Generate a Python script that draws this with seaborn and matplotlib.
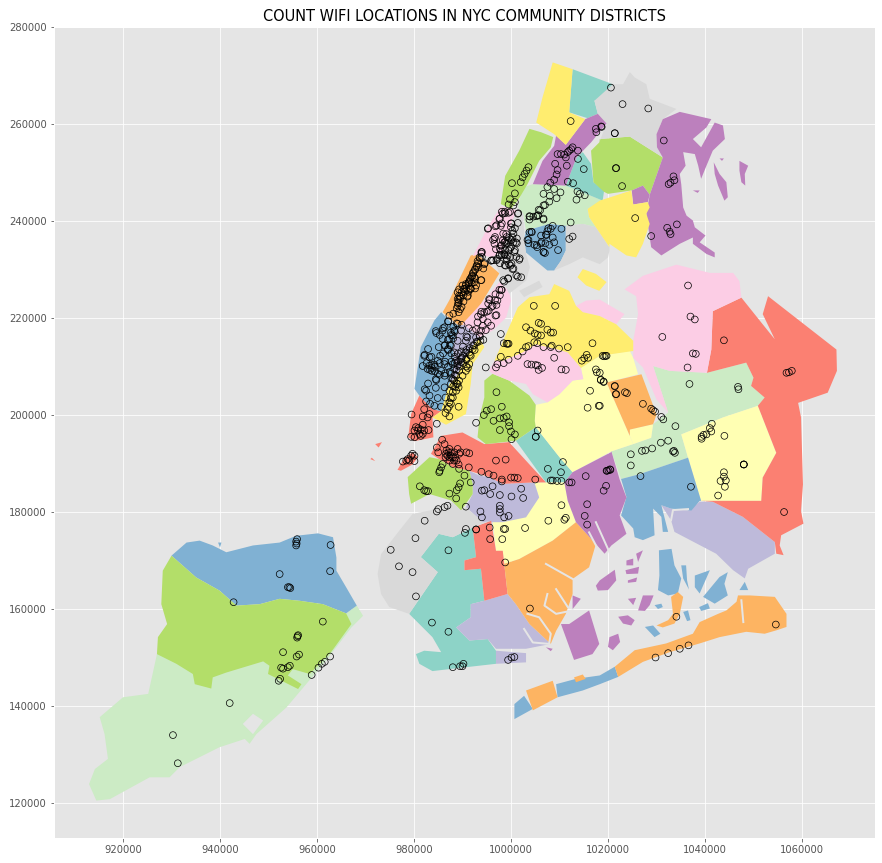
import matplotlib
matplotlib.use("Agg")
import matplotlib.pyplot as plt
import seaborn as sns

# all coordinates below are in thousands of feet (state plane)
SI_LIGHT = [(927,150.7),(925.2,142.5),(920,141.8),(915.2,137.7),(916.2,134.2),(916.9,129.1),(914.2,127),(913,123.9),(914.5,120.5),(917.3,120.8),(925.5,125.3),(929.6,125.3),(931.7,127.4),(939.9,131.5),(945.1,133.2),(946.1,132.2),(947.5,134.2),(953.7,139.7),(961.9,149.4),(967.1,156.2),(969.5,158.6),(968.2,160.7),(966,159.1),(950,155),(930,155)]
SI_GREEN = [(930,171),(935.1,166.5),(939.9,163.8),(943.4,160.7),(948.2,161),(952.3,162.1),(956.4,161.7),(961.2,161),(966,159.1),(967.1,156.9),(962.9,151.1),(958.5,146.6),(955,147.6),(954,146.3),(956.8,144.5),(956.1,143.5),(949.9,146.6),(950.2,148.3),(948.9,149.2),(941.3,146.9),(938.5,145.9),(938.2,143.6),(934.8,144.5),(934.4,146.6),(931,148.7),(927,150.7),(927.2,154.2),(929.1,156.9),(927.9,161),(928.2,167.9)]
SI_BLUE = [(930,171),(933.1,173.7),(935.8,174.1),(938.5,173.1),(941.3,171.7),(946.8,173.1),(952.3,173.7),(955.7,175.1),(960.2,175.6),(963.3,174.8),(964,170.6),(964,167.9),(966,164.5),(968.2,160.7),(966,159.1),(961.2,161),(956.4,161.7),(952.3,162.1),(948.2,161),(943.4,160.7),(939.9,163.8),(935.1,166.5)]
SI_BUMP = [(939.6,173.7),(940.3,173.7),(940,172.7)]
SI_POND = [(944.7,136.3),(946.8,138.4),(948.9,137),(946.8,134.2)]

BX_YELLOW_NW = [(1008.6,272.7),(1012.7,271.3),(1012,262.4),(1015.3,261),(1011.3,255.7),(1008.9,257.9),(1005.2,260.3),(1006.5,265.5)]
BX_TEAL_N = [(1012.7,271.3),(1021,268.2),(1020.3,266.2),(1017.2,264.8),(1017.9,262.1),(1015.8,261.2),(1012,262.4)]
BX_PURPLE = [(1009.3,257.6),(1011.3,255.7),(1015.3,261),(1017.9,262.1),(1019.7,260.1),(1016.5,256.2),(1013.5,253.1),(1011.3,247.3),(1004.5,247.6),(1006.5,252.4),(1008.9,255.5)]
BX_RIVERDALE = [(1003.8,259),(1006.2,258.3),(1008.7,257.3),(1008.2,255.2),(1005.8,252.4),(1003.4,247.6),(1001.4,244.2),(1000,242.5),(997.9,243.5),(998.8,249.3),(1001.7,254.5)]
BX_TEAL_MID = [(1014.8,254.2),(1016.5,251.8),(1017,248),(1019.2,246.3),(1018.9,244.2),(1014.8,245.9),(1011.3,247.3),(1013.5,253.1)]
BX_GREEN_E = [(1018.3,256.9),(1024.5,257.4),(1031.3,253.1),(1028.6,245.4),(1027.2,247.3),(1024.9,246.3),(1020,245.6),(1019.2,246),(1017,248),(1016.5,254.5),(1018.2,256.2)]
BX_GRAY_N = [(1017.2,264.8),(1021,268.2),(1023.1,268.2),(1024.5,270.7),(1025.5,269.6),(1027.9,268.2),(1028.6,265.2),(1034.1,263.1),(1031.3,261),(1030,257.9),(1030.1,255.2),(1031.3,253.1),(1024.5,257.4),(1018.3,256.9),(1018.2,256.2),(1019.7,260.1),(1017.9,262.1)]
BX_PELHAM = [(1030,257.9),(1031.3,261),(1034.8,262.5),(1041.3,261),(1040.3,259.3),(1037.5,256.9),(1039.2,255.2),(1042,260.3),(1043.7,259.7),(1044.1,256.9),(1041.6,254.5),(1040.3,251.4),(1039.2,248.7),(1038.6,251.4),(1037.9,253.8),(1035.5,254.2),(1036,251.4),(1034.8,249.7),(1035.1,247.6),(1035.5,242.8),(1036.2,241.1),(1037.5,240.1),(1037.9,238.7),(1040.1,237),(1038.9,235.6),(1042,233.5),(1042,232.5),(1040.3,233.2),(1037.5,235.3),(1037.5,236.6),(1034.8,235.3),(1031,232.9),(1028.9,234.6),(1027.9,241.5),(1028.6,245.4),(1031.3,253.1),(1030.1,255.2)]
BX_SQUARE = [(1024.9,246.3),(1027.2,247.3),(1028.6,245.4),(1028.2,243.9),(1025.2,243.4)]
BX_ISLE_1 = [(1041.8,252.1),(1043,249.7),(1044.4,248),(1044.7,244.9),(1044,244.2),(1042.7,247.3),(1042,249.7)]
BX_ISLE_2 = [(1047.1,252.4),(1048.9,251.4),(1048.2,249.7),(1048.3,247.3),(1047.5,248),(1047.1,250.4)]
BX_ISLE_3 = [(1037.5,246.3),(1038.9,246.3),(1038.5,245.8)]
BX_ISLE_4 = [(1043,252.9),(1043.9,252.9),(1043.5,252.4)]
BX_YELLOW_E = [(1018.3,244.2),(1024.8,246.3),(1025.2,243.4),(1028.2,243.9),(1028.6,242.8),(1027.9,241.5),(1028.6,239.4),(1027.2,235.3),(1025.8,232.5),(1023.8,232.9),(1020.3,235.3),(1020.3,234.6),(1017.5,238.7),(1016.1,240.8),(1015.8,242.5)]
BX_GRAY_S = [(1011.3,239),(1014.8,239.4),(1017.5,238.7),(1020.3,234.6),(1020.3,233.9),(1020,232.5),(1018.3,231.1),(1014.8,232.5),(1012,231.1),(1008.9,229.8),(1010.3,231.8),(1011.3,233.9)]
BX_LIGHT = [(1002.4,246.9),(1004.5,247.6),(1011.3,247.3),(1014.8,245.9),(1018.9,244.2),(1015.8,242.5),(1016.1,240.8),(1017.5,238.7),(1014.8,239.4),(1011.3,239),(1007.9,239.4),(1003.1,238),(1002.5,241.5),(1001.4,242.8)]
BX_BLUE = [(1003.1,238),(1007.9,239.4),(1011.3,239),(1011.3,233.9),(1010.3,231.8),(1008.9,229.8),(1007.5,229.8),(1005.1,231.8),(1003.1,233.5),(1002.6,236)]
BX_YELLOW_S = [(1014.8,230.1),(1017.5,229.1),(1019.7,227.4),(1018.2,225.6),(1015.5,226.7),(1013.7,228.4)]

MN_HEIGHTS = [(997.9,243),(1000.3,242.5),(1001.4,242.1),(1000.3,240.1),(998.3,233.9),(996.2,232.5),(993.1,233.1),(992.1,232.7),(995.2,238.7)]
MN_HARLEM = [(1001.4,242.8),(1002.5,241.5),(1002.7,237.7),(1003.1,233.2),(1003.9,230.5),(1003.1,227.7),(999.6,225),(997.6,229.2),(996.2,232.5),(998.3,233.9),(1000.3,240.1)]
MN_UWS = [(987.3,223.7),(991.7,232.9),(993.1,233.1),(997.6,229.2),(993.8,222.9),(990.7,218.8),(989.3,218.4),(985.9,221.2)]
MN_EAST = [(997.6,227.4),(999.6,225.6),(1000,223.6),(999,220.1),(996.2,217.4),(993.5,216),(990,218.8),(993.8,222.9)]
MN_WEST = [(985.6,221.2),(987.6,219.1),(989.3,218.4),(988,214),(988.3,210.5),(987.3,206.4),(985.6,200.8),(983.8,201.2),(981.1,204),(980.1,205.4),(981.4,214),(984.2,219.5)]
MN_MIDTOWN = [(989.3,218.4),(990.7,218.8),(993.5,216),(991.4,213.3),(988.7,207.8),(987.3,206.4),(988.3,210.5),(988,214)]
MN_LES = [(993.5,216),(994.5,214),(992.1,210.5),(991.7,206.4),(990.7,200.2),(986.6,198),(983.8,199.5),(985.6,200.8),(987.3,206.4),(988.7,207.8),(991.4,213.3)]
MN_DOWNTOWN = [(981.1,204),(983.8,201.2),(985.6,200.8),(983.8,199.5),(984,195.4),(980.1,194.6),(978.8,195.4),(979.4,200.2)]
MN_GOVERNORS = [(976.6,188.7),(978,191.1),(979.7,192.3),(980.8,191.3),(979.7,189.8),(977.3,188.5)]
MN_SPOT_1 = [(972,194),(973.4,194.4),(972.7,193.3)]
MN_SPOT_2 = [(971,190.9),(972,190.5),(971.3,191.2)]

QN_FOREST = [(994.5,207.1),(996.2,208.5),(999.6,207.1),(1003.8,204),(1005.1,202.1),(1004.9,198.8),(1005.1,197.5),(1001,194.7),(994.8,194),(993.1,195.4),(993.5,199.5),(994.5,203.6)]
QN_ASTORIA = [(1001.4,222.2),(1003.8,224.3),(1007.9,224.9),(1008.9,227),(1012,225.6),(1013.4,222.5),(1014.8,221.2),(1018.3,220.4),(1021.7,218.7),(1025.2,215.3),(1025.2,213.2),(1018.3,212.2),(1014.4,209.7),(1011.7,212.9),(1009.3,213.6),(1005.1,214.6),(1002.4,212.9),(998.3,211.2),(996.6,211.2),(999,216.7)]
QN_SUNNYSIDE = [(996.6,211.2),(998.3,211.2),(1002.4,212.9),(1005.1,214.6),(1009.3,213.6),(1011.7,212.9),(1014.4,209.7),(1014.9,207.4),(1012.7,207.1),(1010,204.3),(1007.5,202.6),(1004.5,204.3),(1003.1,206.4),(999.6,207.1),(996.2,208.5),(995.5,209.1)]
QN_PINK_SMALL = [(1018.3,223.8),(1023.4,220.8),(1021.7,218.7),(1018.3,220.4),(1014.8,221.2),(1013.4,222.5),(1015.5,223.6)]
QN_CENTRAL = [(1005.1,202.1),(1007.5,202.6),(1010,204.3),(1012.7,207.1),(1014.9,207.4),(1014.4,209.7),(1018.3,212.2),(1024.5,213.2),(1025.2,211.8),(1026.2,208.4),(1019.7,206.7),(1024.5,195.7),(1025.2,194),(1020.7,192.5),(1012.7,188.2),(1010,191.3),(1005.1,197.5),(1004.9,198.8)]
QN_YELLOW_BIT = [(1024.5,197),(1029.3,198.1),(1028.9,195.3),(1025.2,194),(1024.5,195.7)]
QN_ORANGE = [(1019.7,206.7),(1026.9,208.4),(1030,200.1),(1029.3,198.1),(1024.5,197),(1024.5,195.7)]
QN_NE = [(1023.4,225.9),(1027.2,228.7),(1034.1,231),(1041,229.3),(1045.8,229.3),(1047.1,227.6),(1047.5,224.2),(1041.6,221.4),(1041.3,213.5),(1040.4,208.7),(1032.7,209.1),(1029.3,210.1),(1032.4,200.5),(1030,203.2),(1027.2,209.8),(1025.2,211.8),(1025.2,215.3),(1026.2,220.8),(1025.8,224.5)]
QN_LIGHT = [(1029.3,210.1),(1032.7,209.1),(1040.4,208.7),(1048.5,210.8),(1050,207.7),(1049.5,206),(1052.3,203.6),(1050.9,201.9),(1043.7,199.5),(1035.1,196),(1036.5,191.2),(1026.5,187.8),(1022.7,186.8),(1020.7,192.5),(1025.2,194),(1028.9,195.3),(1029.3,198.1),(1032.4,200.5)]
QN_SE = [(1035.1,196),(1043.7,199.5),(1050.9,201.9),(1054.7,192.2),(1051.9,187.1),(1051.6,182.3),(1039.2,182.3),(1036.5,191.2)]
QN_EAST = [(1041.6,221.4),(1047.5,224.2),(1051.9,218.7),(1054.4,215.6),(1051.9,220.8),(1053,224.5),(1067.1,213.5),(1067.2,209.1),(1065.3,204.6),(1059.2,202.5),(1059.8,199.5),(1060.2,185.7),(1059.8,180.2),(1060.3,177.6),(1055.7,175.2),(1055.4,173.1),(1056.2,171.1),(1054.7,171.4),(1054.4,173.8),(1047.8,179),(1041.6,182.1),(1039.2,182.3),(1051.6,182.3),(1051.9,187.1),(1054.7,192.2),(1050.9,201.9),(1052.3,203.6),(1049.5,206),(1050,207.7),(1048.5,210.8),(1040.4,208.7),(1041.3,213.5)]
QN_JFK = [(1031,181.4),(1033,180.7),(1036.5,180.3),(1038.9,182.1),(1041.6,182.1),(1047.8,179),(1054.4,173.8),(1054.4,171.4),(1048.9,168.3),(1048.2,166.3),(1045.8,168),(1042.3,171.4),(1033.7,175.9),(1033,178.3)]
QN_BLUE = [(1022.7,186.8),(1026.5,187.8),(1036.5,191.2),(1039.2,182.3),(1038.9,182.3),(1037.2,180.3),(1033,180.7),(1031,181.4),(1032.4,175.9),(1031.3,175.9),(1031,179),(1029.3,180.7),(1029.6,175.2),(1027.2,174.2),(1025.5,174.8),(1025.2,176.6),(1022.7,179.3),(1023.8,183.1)]
QN_ROCKAWAY = [(1021.4,148.1),(1025.5,151.5),(1032,152.9),(1037.5,154.9),(1038.9,157.3),(1042.7,159),(1044.4,159.7),(1046.5,161.5),(1046.8,162.8),(1049.2,162.8),(1054.4,162.5),(1056.8,159),(1056.8,156.3),(1054.7,155.6),(1052.3,154.9),(1048.5,155.3),(1043,154.2),(1038.9,152.9),(1032.7,151.1),(1027.2,149.1),(1022.1,146)]
QN_ROCK_BLUE = [(1009.3,144.5),(1013.4,145.6),(1018.3,146.3),(1021.4,148.1),(1022.1,146),(1018.3,144.5),(1014.8,143.2),(1009.6,141.8)]
QN_ROCK_TIP = [(1000.7,140.4),(1002.7,142.1),(1004.5,139.4),(1000.7,137.3)]
QN_ROCK_OR = [(1003.1,143.2),(1008.6,145.2),(1009.6,141.8),(1004.5,139.1)]
QN_ROCK_OR2 = [(1013,145.9),(1014.8,146.5),(1015.4,145.6),(1013.4,144.9)]
BAY_ORANGE = [(1033,162.5),(1034.4,163.5),(1035.5,162.5),(1034.8,159),(1033.7,157),(1031.3,156.2),(1030,156.6),(1032.4,157.7),(1033.4,159)]
BAY_BLUE_A = [(1030.5,172.1),(1033.1,172.4),(1033.7,169),(1035.1,166.3),(1034.4,163.2),(1032.4,162.8),(1030.3,163.9),(1030.6,166.9)]
BAY_BLUE_B = [(1035.1,169),(1036.1,169),(1036.3,165.9),(1036.7,164),(1035.5,166.3)]
BAY_BLUE_C = [(1037.9,166.9),(1041,168),(1038.9,163.2),(1037.9,164.5)]
BAY_BLUE_D = [(1043,166.6),(1044.7,167.6),(1044,165.2),(1044.7,162.8),(1042,161.1),(1039.6,162.5)]
BAY_BLUE_E = [(1047.1,163.9),(1048.2,165.6),(1048.9,163.9)]
BAY_BLUE_F = [(1038.8,160.4),(1040.6,161.2),(1041,160.1),(1039.2,159.6)]
BAY_BLUE_G = [(1029.6,160.8),(1031,161.1),(1031.3,160.4),(1030.3,160)]
BAY_BLUE_H = [(1035.5,159.4),(1036.5,159.7),(1037,157.7),(1036.3,157.5)]
BAY_BLUE_I = [(1027.6,156.3),(1029.3,156.6),(1030.8,154.9),(1029.6,154.2)]
BAY_PURPLE_A = [(1023.8,170),(1025.2,170.4),(1025.2,169),(1023.8,169)]
BAY_PURPLE_B = [(1025.8,171.4),(1027.2,172.1),(1026.2,169.7)]
BAY_PURPLE_C = [(1023.6,168),(1026.4,168.7),(1026.2,167.3),(1023.8,167.2)]
BAY_PURPLE_D = [(1024.1,165.9),(1026,166.5),(1025.8,165.6),(1024.1,165.4)]
BAY_PURPLE_E = [(1026.2,159.7),(1027.2,162.8),(1029.4,162.8),(1028.6,160.8),(1027.6,159.6)]
BAY_PURPLE_F = [(1024.1,162.1),(1025.8,162.3),(1025.2,160.8)]
BAY_PURPLE_G = [(1022.1,158.4),(1024.1,158.7),(1025.5,157.7),(1024.8,156.6),(1023.1,157)]
BAY_PURPLE_H = [(1020.3,154.2),(1022.1,154.9),(1022.5,153.2),(1021,151.5),(1020,152.2)]
BAY_PURPLE_I = [(1017.5,164.8),(1018.3,165.9),(1021.4,168.1),(1021.7,165.9),(1020,163.9),(1017.9,163.8)]
BAY_PURPLE_J = [(1010.3,156.9),(1012,156.9),(1016.1,159.7),(1018.2,152.8),(1016.8,150.7),(1013,149.5)]
BAY_PURPLE_K = [(1012.7,162.8),(1014.4,162.1),(1012.7,160)]
BAY_PURPLE_L = [(1007.2,152.1),(1008.6,151.8),(1008.2,151.3)]
RIKERS = [(1001.7,225.6),(1005.8,227.7),(1006.5,226.4),(1002.7,224.3)]

BK_TEAL_N = [(1001,194.7),(1005.1,197.5),(1010,191.3),(1012.7,188.2),(1011,186.1),(1007.2,186.1)]
BK_SALMON_N = [(983.5,192),(985.6,195.7),(990,196.4),(994.5,194),(999.6,194.4),(1007.2,186.1),(1004.8,186.1),(998.3,185.8),(995.5,187.2),(991.4,188.5),(988,189.2),(985.2,190.9)]
BK_GREEN = [(978.7,187.2),(983.2,191.3),(985.2,190.9),(988,189.2),(991.4,188.5),(992.1,185.8),(992.1,183.7),(989.7,180.3),(987.6,182.4),(983.2,183.7),(979.4,181.7),(979,183.7)]
BK_LAVENDER_N = [(992.1,185.8),(991.4,188.5),(993.5,187.5),(995.5,187.2),(998.3,185.8),(1004.8,186.1),(1005.8,183),(1003.1,178.9),(998.3,177.9),(994.2,177.9),(990.7,181),(992.1,183.7)]
BK_FLATBUSH = [(1004.8,186.1),(1007.2,186.1),(1011,186.1),(1011.7,182.3),(1013.4,177.9),(1008.6,174.1),(1001.7,170.3),(998.6,169.3),(998.3,172),(996.9,172),(996.2,178.2),(1003.1,179.2),(1005.8,183)]
BK_SALMON_S = [(992.1,176.8),(995.9,178.2),(996.9,172),(998.3,172),(999.3,163.1),(994.5,161.7),(993.8,168.3),(990.4,168),(990.4,170),(992.8,170.7)]
BK_ORANGE = [(1013.4,177.9),(1017.5,173.4),(1016.1,168.6),(1012.7,166.2),(1012.7,163.1),(1011.3,159),(1009.3,155.5),(1008.2,152.8),(1003.8,156.9),(1001,161),(999.3,163.1),(998.6,169.3),(1001.7,170.3),(1008.6,174.1)]
BK_PURPLE = [(1011,186.1),(1012.7,188.2),(1020.6,192.3),(1020.7,192.5),(1022.4,186.7),(1023.8,183),(1022.4,179.3),(1023.8,175.5),(1020.7,173.1),(1019.3,171.4),(1017.5,173.4),(1013.4,177.9),(1011.7,182.3)]
BK_LAVENDER_S = [(999.3,163.1),(1001,161),(1003.8,156.9),(1008.2,152.8),(1003.1,151.8),(996.9,151.8),(995.2,153.8),(991.4,153.5),(988.7,156.2),(991.7,158.3),(991.7,161),(994.5,161.7)]
BK_LAVENDER_BIT = [(996.9,151.4),(1003.1,150.9),(1003.1,149),(996.9,148.7)]
BK_TEAL_S = [(981.4,170.7),(985.1,175.5),(988,174.8),(992.1,176.8),(992.8,170.7),(990.4,170),(990.4,168),(993.8,168.3),(994.5,161.7),(991.7,161),(991.7,158.3),(988.7,156.2),(991.4,153.5),(995.2,153.8),(996.9,151.4),(996.9,148.7),(990.7,148),(983.8,147.2),(981.1,148.7),(980.4,150.7),(982.1,151.4),(985.6,151.1),(983.8,154.2),(979,159),(984.9,167.6)]
BK_GRAY = [(972.5,167.2),(973.2,171.3),(977,176.2),(979.7,179.6),(983.2,180.3),(988,182),(989.7,180.3),(990.7,181),(994.2,177.9),(995.9,178.2),(992.1,176.8),(988,174.8),(985.1,175.5),(981.4,170.7),(984.9,167.6),(979,159),(974.9,160.4),(973.2,163.1)]

# thin channels that cut through the land
INLET_1 = [(1007.2,169.3),(1012.7,166.2)]
INLET_2 = [(1009.3,164.1),(1011.7,160.4)]
INLET_3 = [(1007.5,163.1),(1006.9,160.7),(1009.3,159),(1012.7,159.7)]
INLET_4 = [(1003.4,159),(1005.8,158.3),(1008.2,154.9),(1007.9,153.1)]
INLET_5 = [(1002.7,155.9),(1004.5,153.1),(1007.9,152.8)]
INLET_6 = [(1016.1,175.8),(1018.1,172)]
INLET_7 = [(1017.5,177.9),(1020.3,171.7)]
INLET_8 = [(1047.5,161.8),(1047.9,157.3)]
INLET_9 = [(1033,178.3),(1033.4,180.4),(1036.5,180.6)]

wifi_x = [955.9,955.7,955.8,955.7,962.8,962.7,952.3,954,954.3,954.5,942.8,961.2,956.1,956,955.9,953,956.3,955.8,962.7,961.6,961,960.3,958.9,954.4,954,952.6,953,952.4,952.1,942,930.3,931.3,
 1020.6,1023,1028.3,1021.4,1018.7,1021.7,1022.9,1031.5,1033.5,1033.7,1032.9,1032.5,1025.6,1034.2,1032.2,1032.7,1032.9,1028.9,1036.5,
 1037,1037.9,1031.2,1043.9,1037.5,1038.1,1036.4,1036.8,1046.8,1046.9,1056.8,1057.3,1057.9,1019.2,1019.7,1021.4,1021.7,1023.5,1023.9,1027.2,1028.9,1029.3,1029.7,1031,1031.4,1018.3,1018.3,1018.5,1019.1,1033.9,1041.4,1041,1041.3,1040.3,1039.7,1039.3,1039.3,1044,1032.4,1030.9,1029.1,1027.7,1027,1033.4,1033.8,1033.6,1024.7,1024.7,1026.7,1020.5,1020.1,1019.7,1019.6,1019.1,1037.1,1048,1048,1048,1043.9,1043.9,1044.3,1043.2,1044.1,1042.7,
 1056.3,1034.1,1029.8,1032.4,1034.8,1036.6,1054.6,
 1003.9,998.8,995.7,998.2,995.6,992.8,992.8,990.7,990.5,998.5,998.8,1002.9,1007.7,1010.4,1011.3,1011,1015.7,1015.2,1015.7,987.1,982.2,980.3,975.2,976.9,979.7,980.4,983.7,987.1,988,989.5,990.2,990,999.4,1000.1,1000.7,993.7,994,990.7,997.7,997.7,997.7,998.6,999.5,986.9,986.3,985,984.7,
 1004.7,1009.1,1005.7,1006.2,1003.1,1004,1004.9,1005.5,1006.2,1007.5,1008.2,1008.7,1004.8,1005.4,1003.6,1003.1,1002.4,1001.4,1006.7,1008.2,1008.4,1009.9,1011.7,1016.8,998.5,999.1,999.3,999.5,997.9,
 997.9,999.5,998.5,997.2,996.9,994.8,1003.4,1004.2,1005.1,1005.5,1006.4,1005.7,1008.9,1010.4,1011.3,1014.6,1015.1,1015.9,1015.6,1018.9,1019.5,1017.5,1017.7,1018.5,1019.1,1021.4,1021.6,1016.3,1015.8,1018.1,
 997,995.9,995,994.4,998.1,996.4,997.7,998.5,999.1,997.7,999.6,999.6,1000,1000.8,1000.1,992.8,1005.5,1005.1,1005.1,
 989.2,984.7,987.3,986.5,987.2,
 996.9,998.9,993.9,995.4,996.4,998.1,998.1,1000,1000.7,1001.4,1005,1007.6,1008.2,1008.6,1009.5,1010.4,1012,1012.5,1010.7,1010.3,1015.4,1019.8,1020.4,
 991.7,994,994.5,996.2,995.7,997.7,1000.1,1002.1,1002.5,
 981.2,982.1,982.5,982.9,987.3,988.7,988.8,989.2,989.5,990.4,991.3,989.3,985.2,985.3,985.9,985.6,
 984.7,985,985.8,986.3,987.3,986.6,987.3,988,986.9,988.3,989,989.3,987.6,988.8,989.2,989.6,991.4,990.8,988,987.3,988.5,987.6,986.5,986.7,988.3,987.1,
 977.7,978.4,978.7,979.4,979.7,980.1,979,980.1,
 979.5,982.1,981.8,983.2,982.8,981.8,980.4,980.8,981.1,981.4,980.1,979.4,980.1,982.1,983,980.9,981.8,981.4,982.5,983.3,982.5,982.2,
 982.9,982.1,983.2,981.8,983.2,983.7,984.2,982.8,983.7,984.9,984.5,985.9,986.3,987.1,987.3,985.9,985.1,985.4,986.3,987.3,987.6,988.3,989,988,987,987.6,984.9,986.3,985.6,986.3,984.5,984.5,986.3,984.9,983.2,985.6,984.2,
 988.3,988.7,988,989,989.7,988.3,989.3,987.6,988.7,990,990.7,991.4,992.1,992.4,993.1,993.7,992.8,993.5,991.7,990.7,989.7,991,990.7,989.7,989,988,987.6,988.5,989.2,987.3,988,986.5,987.6,
 995.5,997.6,996.8,997.2,996.2,995.4,994.5,993.8,996.8,994.2,995.2,993.1,994.2,995.9,992.8,992.1,991.3,994.8,993.8,
 991.4,990.7,990,989.3,989,989.3,989,989.2,989,989.5,989.2,991.1,991.7,992.8,992.4,990.4,
 993.9,993.5,993.1,992.9,992.6,992.2,992,991.6,991.3,990.7,990.2,989.8,989.5,989.2,993.3,992.4,994.5,993.8,991.7,991,
 995.2,996.6,996.8,997.9,997.6,998.3,998.7,999.5,1001.4,1001.4,1000,1000,1000.3,999,998.3,999.4,1000.3,1001,997.9,999,1000,997.6,999.3,1000.7,1001.7,995.9,997.2,996.9,999.6,998.9,1000.3,1001.4,1002.1,999.4,998.6,998.1,996.6,
 1003.6,1003.2,1002.8,1002.4,1002,1000.2,1000.8,999.8,1000.8,999.5,1000.5,
 1009.6,1010.3,1011,1011.7,1012,1012.7,1012.4,1013.8,1013.8,1011.3,1011.5,1009.1,1009.6,1009.4,1008.9,1011.7,1017.5,1017.6,1018.6,1012.3,1021.4,1021.6,1015,1012.8,
 1008.1,1007.5,1008.9,1006.7,1008,1010.2,1009.4,1007.9,1006.7,1005.7,1003.8,1003.8,1005.2,1005.5,1006.7,1013.7,1014.2,1015.2,1013.5,
 1012.3,1008.6,1008.2,1007.5,1007.2,1010.4,1003.8,1004.3,1006.2,1003.4,1003.6,1008.6,1008.9,1007.1,1007.9,1006.2,1004.8,1005.4,1006.7,1007,1009.7,1012,1012.7,
 998.6,999.6,1000.5,997.9,998.6,999.5,999.1,999.9]
wifi_y = [174.4,173.9,173.5,173.1,173.2,167.8,167.2,164.5,164.5,164.3,161.4,157.4,154.6,154.4,154.1,151.1,150.6,150.2,150.2,149.1,148.7,147.9,146.4,148.3,148,147.9,147.7,145.6,145.2,140.6,134,128.2,
 267.5,264.1,263.2,258.1,259.4,250.9,247.2,256.6,249.2,248.4,247.9,247.6,240.6,239.3,238.6,237.8,237.3,236.9,226.7,
 220.3,219.7,216.1,215.4,212.7,212.6,209.8,206.4,205.8,205.3,208.7,208.8,209.1,212.1,212.2,205.9,204.3,204.7,204.5,202.3,201.3,201,200.7,199.6,199.1,201.9,208.7,207.2,206.8,197.7,198.2,197.3,196.6,196,195.9,195.5,195.1,195.7,194.7,194.3,193.1,192.7,192.6,192.5,192.2,192.6,191.9,189.6,187.4,188.7,188.6,188.5,185.4,184.4,185.2,189.8,189.8,189.8,188.2,187.3,186.5,186.4,185.2,183.4,
 180,158.4,150,150.9,151.8,152.5,156.8,
 160.1,169.6,174.4,174.4,176.8,176.4,176.4,176.5,175.7,176.5,176.5,176.7,178.2,181.4,178.8,178.4,181.6,179.2,177.4,172.1,178.2,174.6,172.2,168.8,167.6,162.6,157.2,155.3,148,148.2,148.7,148.2,149.5,150,150.1,180.1,178.9,181.1,181.3,180.6,179.9,178.9,179.2,181.3,181,180.6,180.1,
 222.5,222.5,219,218.8,218.1,217.4,216.8,216.5,216.4,217.6,217,217,215,214.8,214.2,214,213.1,212.2,214,214,214.3,213.7,214,214.8,214.8,214.7,214.7,214.7,216.7,
 212,211.4,210.7,210.5,209.8,209.8,210.5,210.4,210.3,210.2,209.7,209.3,211.8,209.4,209.3,211.2,211.7,211.8,212.4,212.2,212.2,209.4,208.8,207.3,206.9,206,204.3,205,201.5,201.9,
 204.7,201.2,200.9,200,201.7,198.8,199.3,199.4,199.7,196.9,198.5,197.7,196.6,196,195,198.4,196.8,195.5,195.5,
 201.7,198.2,199.7,200.4,201.7,
 190.6,190.8,188.3,187.8,187.5,186.7,186.3,187.1,187.1,187,186.7,188.9,186.5,186.5,186.4,186.4,186.1,186.1,190.3,188.2,187.4,188.5,188.8,
 186.1,184.4,184.5,185.3,183.7,183.5,183.2,184.8,182.9,
 185.3,184.5,184.3,184.3,183.8,182.8,184.5,185.1,185.9,187.5,189.2,188.9,188.2,188.5,189.9,189.2,
 193.3,192.3,194.9,194,193,192,191.3,191.3,191.6,192.3,193,192,192.3,190.6,189.8,192.3,192.1,192.3,189.9,190.6,191.3,191.6,191.3,192.7,190.6,192.3,
 190.4,190.6,190.9,191.6,192,191.6,190.6,190.5,
 200.1,201.2,199.7,200.2,199.5,198,197.5,196.8,196.1,195.7,196.8,195.5,195.4,196.8,196.9,197.3,196.1,197,202.8,202.3,205,205.3,
 213.6,212.2,211.9,210.1,210.2,209.7,210.4,209.5,209.1,208.5,217.3,217.4,218.1,219.3,220.5,215.7,214,212.2,214.3,215.7,217,217.4,218.8,216.4,213.6,214.3,211.2,210.5,209.1,208.1,207.4,205.6,205.7,203.5,204,201.7,201.9,
 212.9,211.2,210.5,210.2,210.9,209.5,209.1,208.5,208.1,212.2,212.9,212.9,213.6,214.3,215,215.3,216,216.4,212.2,211.5,211.5,216,215.3,217.4,215.3,207.4,206.4,205.8,205.7,205,204.7,203.6,203.5,
 223.9,225.8,224.9,223.6,222.5,221.5,221.2,220.8,220.5,219.8,219.1,219.1,218.4,218.4,217.7,217.4,217.9,217.5,217.4,
 227.4,227,226.7,225.9,225.3,224.6,223.9,223.2,222.5,221.8,221.2,224.6,226,226.7,227.4,226,
 233.6,232.5,231.7,230.8,230.1,229.4,228.7,228.1,227.4,226.7,226,225.3,224.4,223.7,230.5,228.4,231.1,227.8,226,224.4,
 238.4,236.3,238.9,239,240.4,241.5,241.9,241.7,241.5,239.6,239.5,238.7,238,237.3,236,236,236.6,235.6,234.9,235.3,234.6,232.9,232.9,233.6,232,231.8,232.2,234.2,231.1,230.8,230.1,228.5,228.4,228.1,227.5,225.8,235.3,
 251.1,250.4,249.7,249,248,247.8,245.7,244.5,243.9,243.4,243.2,
 253.8,253.8,253.7,254.2,254.5,255.2,254.8,254.5,252.8,253.1,251.4,251.8,250.5,249.6,248.5,248.1,259,258.3,259.5,260.6,258.1,250.9,250.7,247.8,
 247.9,247,246.6,245.6,245.2,245.9,244.7,244,243.2,242.3,241,240.3,241,241.1,240.3,246.1,245.6,245.3,244.4,
 239.7,239,238.4,237.9,237.2,238.4,237.7,237.7,237,236.1,235.4,236.6,235.6,235.4,235.1,235.4,235.1,234.6,233.6,233.4,234,236.3,236.8,
 235.6,236.5,235.6,233.9,233.2,233.9,231.8,230.8]

midtown_x = [988.1,988.4,987.7,988.1,987,987.4,986.4,987,986,987.7,988.4,989.1,989.8,990.1,990.8,991.5,992.2,992.9,993.6,994.3,992.5,991.5,990.8,990.1,989.4,988.8,988.4,987.7,988.8,988.1,987,986.4,985.3,984.3,983.6,982.6,982.2,983.6,983.3,984.3,984.6,985.3,986.4,987.4,989.1,989.8,988.4,987.7,990.8,989.8,988.8,987,985.3,986,984.6,990.8,982.9,
 988,987.3,988.3,989,986.9,987.6,988.7,989.3,990,990.7,991.4,991.1]
midtown_y = [218.2,217.2,216.5,215.8,215.5,214.4,214.4,213.4,212.7,212.7,212,212.7,213.1,214.1,213.4,213.8,214.4,215.1,216.2,215.5,213.4,212.4,211.4,210.7,210,209.3,208.3,207.6,206.5,205.9,210,211,210.7,210,210.3,210.7,212.4,212,209.3,209,207.2,208.3,208.6,208.9,211,211.7,210.7,211,216.2,218.6,218.9,219.3,216.5,217.9,216.9,210,206.5,
 203.6,202.6,207.1,206.4,201.2,202.3,205,207.1,208.1,209.1,210.5,209.7]
uptown_x = [993.9,993.6,993.2,992.9,992.6,992.2,991.9,991.5,991.2,990.8,990.5,990.2,989.5,989.1,988.8,988.1,992.6,991.9,991.2,990.2,989.8,993.9,994.6,994.3,991.5,992.6,997.7,998.7,999.8,1001.1,996.3,997.7,998.7,1000.5,999.4,998.4,1001.1,998,997.7,996.7,995.6,997,996,995,993.9,997,993.2,995.3]
uptown_y = [233.3,232.3,231.3,230.6,229.9,229.2,228.5,227.8,227.1,226.1,225.4,224.7,224,223,222,220.9,228.2,227.1,225.4,223.4,222.3,227.8,231.3,230.2,226.1,226.1,233,233,232.6,232.6,231.9,231.3,230.9,230.2,228.2,227.8,228.8,225.8,224.7,223.7,223.7,222.7,222.3,221.3,221.3,220.6,220.3,223]
heights_x = [998.1,998.8,997.7,997,998.1,999.8,1001.5,995.3,996.7,996.3,1000.1,1000.8,999.1,1000.5,998.8,998.1,999.4,1000.1,1001.2,997.7,998.8,999.8,1000.8,1001.8,998.1,997,999.1,1000.1,996,994,994,1001.2,998.4,1003.9,1004.6,1005.6,1006.7,1006,1007,1004.2,1003.6,1005.3,1006.3,1007.3,1006.7,1007.7]
heights_y = [241.9,241.6,240.5,239.1,239.5,241.9,241.6,238.5,236.7,236.1,239.5,238.5,236.7,237.4,235.7,235,235.4,236.1,236.4,234.3,234,234.3,234,232.3,233,231.9,232.3,231.2,231.9,233.6,232.6,235.4,237.4,240.9,240.9,241.2,240.5,242.2,243.3,237.8,236.1,235,235.7,237.1,233.6,238.5]

TITLE = "COUNT WIFI LOCATIONS IN NYC COMMUNITY DISTRICTS"
X_TICKS = [920000, 940000, 960000, 980000, 1000000, 1020000, 1040000, 1060000]
Y_TICKS = [120000, 140000, 160000, 180000, 200000, 220000, 240000, 260000, 280000]

# Set3 colour names -> shapes
SHAPES = {
    "teal": [BX_TEAL_N, BX_TEAL_MID, BK_TEAL_N, BK_TEAL_S],
    "pale": [QN_CENTRAL, QN_YELLOW_BIT, QN_SE, BK_FLATBUSH],
    "lavender": [MN_MIDTOWN, QN_JFK, BK_LAVENDER_N, BK_LAVENDER_S, BK_LAVENDER_BIT],
    "salmon": [MN_DOWNTOWN, MN_GOVERNORS, MN_SPOT_1, MN_SPOT_2, QN_EAST, BK_SALMON_N, BK_SALMON_S],
    "blue": [SI_BLUE, SI_BUMP, BX_BLUE, MN_WEST, QN_BLUE, QN_ROCK_BLUE, QN_ROCK_TIP, BAY_BLUE_A, BAY_BLUE_B, BAY_BLUE_C, BAY_BLUE_D, BAY_BLUE_E, BAY_BLUE_F, BAY_BLUE_G, BAY_BLUE_H, BAY_BLUE_I],
    "orange": [MN_UWS, QN_ORANGE, QN_ROCKAWAY, QN_ROCK_OR, QN_ROCK_OR2, BAY_ORANGE, BK_ORANGE],
    "green": [SI_GREEN, BX_RIVERDALE, BX_GREEN_E, QN_FOREST, BK_GREEN],
    "pink": [MN_HEIGHTS, MN_EAST, QN_SUNNYSIDE, QN_PINK_SMALL, QN_NE],
    "gray": [BX_GRAY_N, BX_GRAY_S, MN_HARLEM, RIKERS, BK_GRAY],
    "purple": [BX_PURPLE, BX_PELHAM, BX_SQUARE, BX_ISLE_1, BX_ISLE_2, BX_ISLE_3, BX_ISLE_4, BK_PURPLE, BAY_PURPLE_A, BAY_PURPLE_B, BAY_PURPLE_C, BAY_PURPLE_D, BAY_PURPLE_E, BAY_PURPLE_F, BAY_PURPLE_G, BAY_PURPLE_H, BAY_PURPLE_I, BAY_PURPLE_J, BAY_PURPLE_K, BAY_PURPLE_L],
    "light": [SI_LIGHT, BX_LIGHT, QN_LIGHT],
    "yellow": [BX_YELLOW_NW, BX_YELLOW_E, BX_YELLOW_S, MN_LES, QN_ASTORIA],
}
INLETS = [INLET_1, INLET_2, INLET_3, INLET_4, INLET_5, INLET_6, INLET_7, INLET_8, INLET_9]

plt.style.use("ggplot")
palette = dict(zip(SHAPES, sns.color_palette("Set3", 12)))

fig = plt.figure(figsize=(882 / 72, 863 / 72), dpi=72)
ax = fig.add_axes([54 / 882, 1 - 838 / 863, 821 / 882, 811 / 863])

# light green goes first, the Staten Island green sits on it
for name in ["light"] + [n for n in SHAPES if n != "light"]:
    for shape in SHAPES[name]:
        xs = [p[0] * 1000 for p in shape]
        ys = [p[1] * 1000 for p in shape]
        ax.fill(xs, ys, color=palette[name], linewidth=0, zorder=1)

ax.fill([p[0] * 1000 for p in SI_POND], [p[1] * 1000 for p in SI_POND], color="#e5e5e5", linewidth=0, zorder=1.5)
for inlet in INLETS:
    ax.plot([p[0] * 1000 for p in inlet], [p[1] * 1000 for p in inlet], color="#e5e5e5", lw=2, zorder=1.5)

all_x = wifi_x + midtown_x + uptown_x + heights_x
all_y = wifi_y + midtown_y + uptown_y + heights_y
sns.scatterplot(x=[v * 1000 for v in all_x], y=[v * 1000 for v in all_y], ax=ax,
                s=46, facecolors="none", edgecolor="black", linewidth=0.7, zorder=3)

ax.set_xlim(905773, 1075051)
ax.set_ylim(112784, 280000)
ax.set_xticks(X_TICKS)
ax.set_yticks(Y_TICKS)
ax.ticklabel_format(style="plain", useOffset=False)
ax.set_title(TITLE, color="black", fontsize=14.5, pad=6)

fig.savefig("out.png", dpi=72)
